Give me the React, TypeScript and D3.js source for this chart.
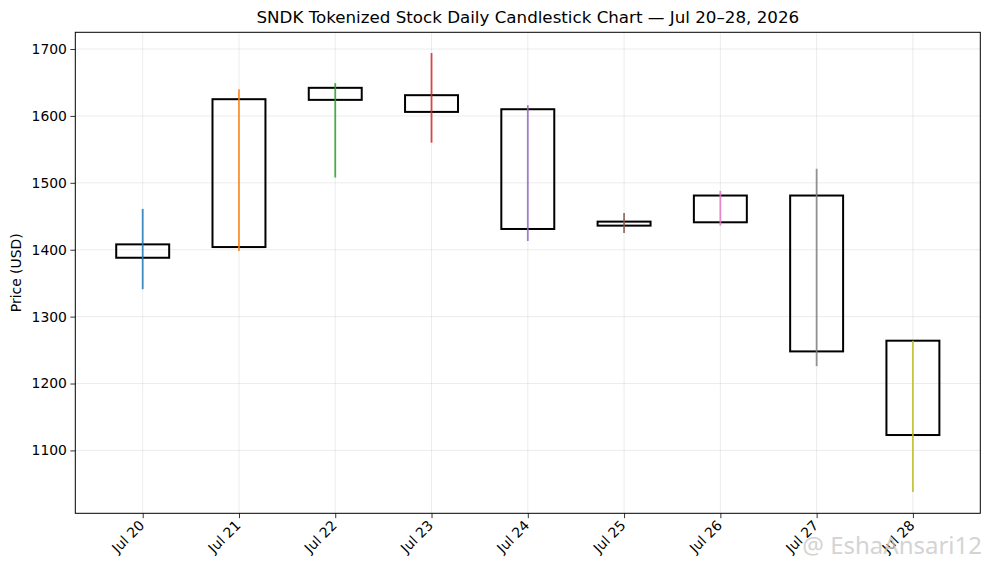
import React, { useEffect, useRef } from "react";
import * as d3 from "d3";

const days = ["Jul 20", "Jul 21", "Jul 22", "Jul 23", "Jul 24", "Jul 25", "Jul 26", "Jul 27", "Jul 28"];
const opens = [1388, 1404, 1624, 1631, 1610, 1442, 1441, 1481, 1264];
const closes = [1408, 1625, 1642, 1606, 1431, 1436, 1481, 1248, 1123];
const highs = [1461, 1640, 1649, 1694, 1616, 1455, 1488, 1521, 1264];
const lows = [1341, 1398, 1508, 1560, 1413, 1425, 1436, 1226, 1038];
const yTicks = [1100, 1200, 1300, 1400, 1500, 1600, 1700];
const wickColors = ["#1f77b4", "#ff7f0e", "#2ca02c", "#d62728", "#9467bd", "#8c564b", "#e377c2", "#7f7f7f", "#bcbd22"];

const W = 989;
const H = 570;

const App = () => {
  const svgRef = useRef<SVGSVGElement | null>(null);

  useEffect(() => {
    const margin = { top: 32.3, right: W - 980.3, bottom: H - 513.3, left: 75.3 };
    const width = W - margin.left - margin.right;
    const height = H - margin.top - margin.bottom;
    const font = "DejaVu Sans, sans-serif";

    d3.select(svgRef.current).selectAll("*").remove();

    const root = d3.select(svgRef.current).attr("width", W).attr("height", H);
    root.append("rect").attr("width", W).attr("height", H).attr("fill", "white");

    const svg = root.append("g").attr("transform", `translate(${margin.left},${margin.top})`);

    const x = d3.scaleLinear().domain([-0.7, days.length - 1 + 0.7]).range([0, width]);
    const y = d3.scaleLinear().domain([1006, 1725]).range([height, 0]);
    const step = x(1) - x(0);
    const bodyW = step * 0.55;

    // grid
    svg
      .selectAll(".vgrid")
      .data(days)
      .enter()
      .append("line")
      .attr("x1", (_, i) => x(i))
      .attr("x2", (_, i) => x(i))
      .attr("y1", 0)
      .attr("y2", height)
      .attr("stroke", "#b0b0b0")
      .attr("stroke-opacity", 0.3)
      .attr("stroke-width", 0.8);
    svg
      .selectAll(".hgrid")
      .data(yTicks)
      .enter()
      .append("line")
      .attr("x1", 0)
      .attr("x2", width)
      .attr("y1", (d) => y(d))
      .attr("y2", (d) => y(d))
      .attr("stroke", "#b0b0b0")
      .attr("stroke-opacity", 0.3)
      .attr("stroke-width", 0.8);

    // bodies
    svg
      .selectAll(".body")
      .data(days)
      .enter()
      .append("rect")
      .attr("x", (_, i) => x(i) - bodyW / 2)
      .attr("y", (_, i) => y(Math.max(opens[i], closes[i])))
      .attr("width", bodyW)
      .attr("height", (_, i) => Math.abs(y(opens[i]) - y(closes[i])))
      .attr("fill", "none")
      .attr("stroke", "black")
      .attr("stroke-width", 2);

    // wicks
    svg
      .selectAll(".wick")
      .data(days)
      .enter()
      .append("line")
      .attr("x1", (_, i) => x(i))
      .attr("x2", (_, i) => x(i))
      .attr("y1", (_, i) => y(highs[i]))
      .attr("y2", (_, i) => y(lows[i]))
      .attr("stroke", (_, i) => wickColors[i])
      .attr("stroke-opacity", 0.85)
      .attr("stroke-width", 1.8);

    // frame
    svg
      .append("rect")
      .attr("width", width)
      .attr("height", height)
      .attr("fill", "none")
      .attr("stroke", "black")
      .attr("stroke-width", 1);

    // x axis
    const xAxis = svg
      .append("g")
      .attr("transform", `translate(0,${height})`)
      .call(
        d3
          .axisBottom(x)
          .tickValues(days.map((_, i) => i))
          .tickFormat((d) => days[d as number])
          .tickSize(4.9)
          .tickPadding(3.5)
      );
    xAxis.select(".domain").remove();
    xAxis.selectAll("line").attr("stroke", "black").attr("stroke-width", 0.8);
    xAxis
      .selectAll("text")
      .attr("font-family", font)
      .attr("font-size", 13.9)
      .attr("fill", "black")
      .attr("transform", "translate(0,8) rotate(-45)")
      .attr("y", 0)
      .attr("x", -2)
      .attr("dy", "0.35em")
      .style("text-anchor", "end");

    // y axis
    const yAxis = svg
      .append("g")
      .call(d3.axisLeft(y).tickValues(yTicks).tickFormat(d3.format("d")).tickSize(4.9).tickPadding(3.5));
    yAxis.select(".domain").remove();
    yAxis.selectAll("line").attr("stroke", "black").attr("stroke-width", 0.8);
    yAxis.selectAll("text").attr("font-family", font).attr("font-size", 13.9).attr("fill", "black");

    // title and labels
    root
      .append("text")
      .attr("x", margin.left + width / 2)
      .attr("y", 23)
      .attr("text-anchor", "middle")
      .attr("font-family", font)
      .attr("font-size", 16.7)
      .text("SNDK Tokenized Stock Daily Candlestick Chart — Jul 20–28, 2026");

    root
      .append("text")
      .attr("transform", `translate(21,${margin.top + height / 2}) rotate(-90)`)
      .attr("text-anchor", "middle")
      .attr("font-family", font)
      .attr("font-size", 13.9)
      .text("Price (USD)");

    // watermark
    root
      .append("text")
      .attr("x", 982)
      .attr("y", 554)
      .attr("text-anchor", "end")
      .attr("font-family", "Noto Sans, sans-serif")
      .attr("font-size", 24)
      .attr("fill", "#c8c8c8")
      .attr("fill-opacity", 0.8)
      .text("@ EshaAnsari12");
  }, []);

  return (
    <div style={{ margin: -8 }}>
      <svg ref={svgRef}></svg>
    </div>
  );
};

export default App;
